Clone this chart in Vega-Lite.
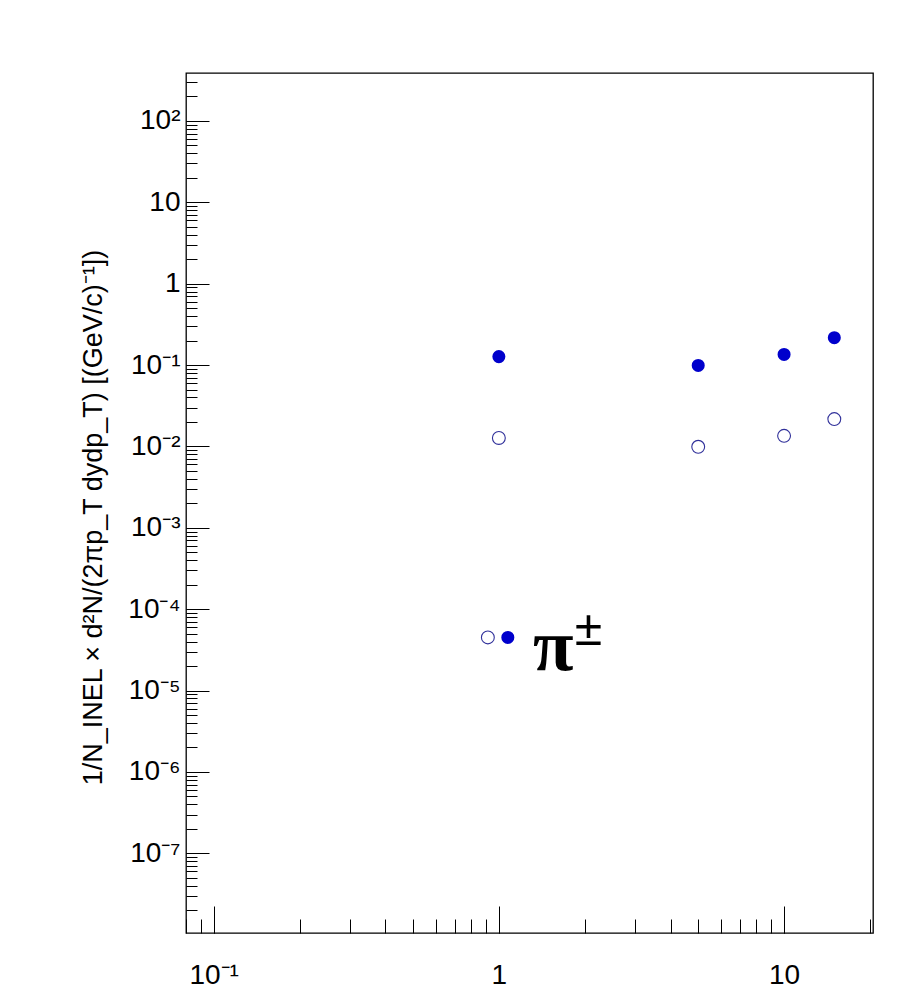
{
  "$schema": "https://vega.github.io/schema/vega-lite/v6.json",
  "autosize": "none",
  "width": 687,
  "height": 860,
  "padding": {"left": 186, "top": 73, "right": 49, "bottom": 67},
  "background": "white",
  "config": {
    "view": {"stroke": "black", "strokeWidth": 1.3},
    "font": "Liberation Sans",
    "axis": {"grid": false, "domain": false, "tickColor": "black", "tickWidth": 1, "labelColor": "black", "titleColor": "black", "labelFont": "Liberation Sans", "titleFont": "Liberation Sans"}
  },
  "datasets": {
    "filled": [
      {"pt": 1, "yield": 0.127},
      {"pt": 5, "yield": 0.099},
      {"pt": 10, "yield": 0.135},
      {"pt": 15, "yield": 0.217}
    ],
    "open": [
      {"pt": 1, "yield": 0.0127},
      {"pt": 5, "yield": 0.0099},
      {"pt": 10, "yield": 0.0135},
      {"pt": 15, "yield": 0.0217}
    ],
    "legendOpen": [{"pt": 0.915, "yield": 4.5e-5}],
    "legendFilled": [{"pt": 1.075, "yield": 4.5e-5}],
    "pi": [{"pt": 1.55, "yield": 3.3e-5, "label": "π"}],
    "pm": [{"pt": 2.06, "yield": 5.6e-5, "label": "±"}]
  },
  "resolve": {"axis": {"x": "independent", "y": "independent"}},
  "layer": [
    {
      "data": {"name": "filled"},
      "mark": {"type": "point", "shape": "circle", "filled": true, "size": 170, "color": "#0000cc", "opacity": 1},
      "encoding": {
        "x": {"field": "pt", "type": "quantitative",
          "scale": {"type": "log", "domain": [0.08, 20.5], "nice": false, "zero": false},
          "axis": {"orient": "bottom", "values": [0.1, 1, 10], "tickSize": -27, "labelPadding": 77, "labelFontSize": 28, "labelBaseline": "alphabetic", "title": null,
            "labelExpr": "datum.value < 0.5 ? '10⁻¹' : datum.value < 5 ? '1' : '10'"}},
        "y": {"field": "yield", "type": "quantitative",
          "scale": {"type": "log", "domain": [1.05e-8, 388], "nice": false, "zero": false},
          "axis": {"orient": "left", "values": [1e-7, 1e-6, 1e-5, 1e-4, 1e-3, 1e-2, 1e-1, 1, 10, 100], "tickSize": -23, "labelPadding": 29, "labelFontSize": 28, "labelBaseline": "middle",
            "labelExpr": "datum.value > 50 ? '10²' : datum.value > 5 ? '10' : datum.value > 0.5 ? '1' : '10⁻' + ['', '¹', '²', '³', '⁴', '⁵', '⁶', '⁷', '⁸'][round(-log(datum.value) / LN10)]",
            "title": "1/N_INEL × d²N/(2πp_T dydp_T) [(GeV/c)⁻¹])",
            "titleFontSize": 27, "titleFontWeight": "normal", "titleAngle": -90, "titleAlign": "center", "titleBaseline": "middle", "titleX": -93, "titleY": 444}}
      }
    },
    {
      "data": {"name": "open"},
      "mark": {"type": "point", "shape": "circle", "filled": false, "size": 165, "stroke": "#30309a", "strokeWidth": 1.1, "opacity": 1},
      "encoding": {
        "x": {"field": "pt", "type": "quantitative",
          "axis": {"orient": "bottom", "tickCount": 20, "tickSize": -14, "labels": false, "title": null}},
        "y": {"field": "yield", "type": "quantitative",
          "axis": {"orient": "left", "tickCount": 50, "tickSize": -11, "labels": false, "title": null}}
      }
    },
    {
      "data": {"name": "legendOpen"},
      "mark": {"type": "point", "shape": "circle", "filled": false, "size": 165, "stroke": "#30309a", "strokeWidth": 1.1, "opacity": 1},
      "encoding": {
        "x": {"field": "pt", "type": "quantitative", "axis": null},
        "y": {"field": "yield", "type": "quantitative", "axis": null}
      }
    },
    {
      "data": {"name": "legendFilled"},
      "mark": {"type": "point", "shape": "circle", "filled": true, "size": 170, "color": "#0000cc", "opacity": 1},
      "encoding": {
        "x": {"field": "pt", "type": "quantitative", "axis": null},
        "y": {"field": "yield", "type": "quantitative", "axis": null}
      }
    },
    {
      "data": {"name": "pi"},
      "mark": {"type": "text", "font": "Liberation Serif", "fontWeight": "bold", "fontSize": 74, "align": "center", "baseline": "middle", "color": "black"},
      "encoding": {
        "x": {"field": "pt", "type": "quantitative", "axis": null},
        "y": {"field": "yield", "type": "quantitative", "axis": null},
        "text": {"field": "label"}
      }
    },
    {
      "data": {"name": "pm"},
      "mark": {"type": "text", "font": "Liberation Sans", "fontSize": 50, "align": "center", "baseline": "middle", "color": "black"},
      "encoding": {
        "x": {"field": "pt", "type": "quantitative", "axis": null},
        "y": {"field": "yield", "type": "quantitative", "axis": null},
        "text": {"field": "label"}
      }
    }
  ]
}
